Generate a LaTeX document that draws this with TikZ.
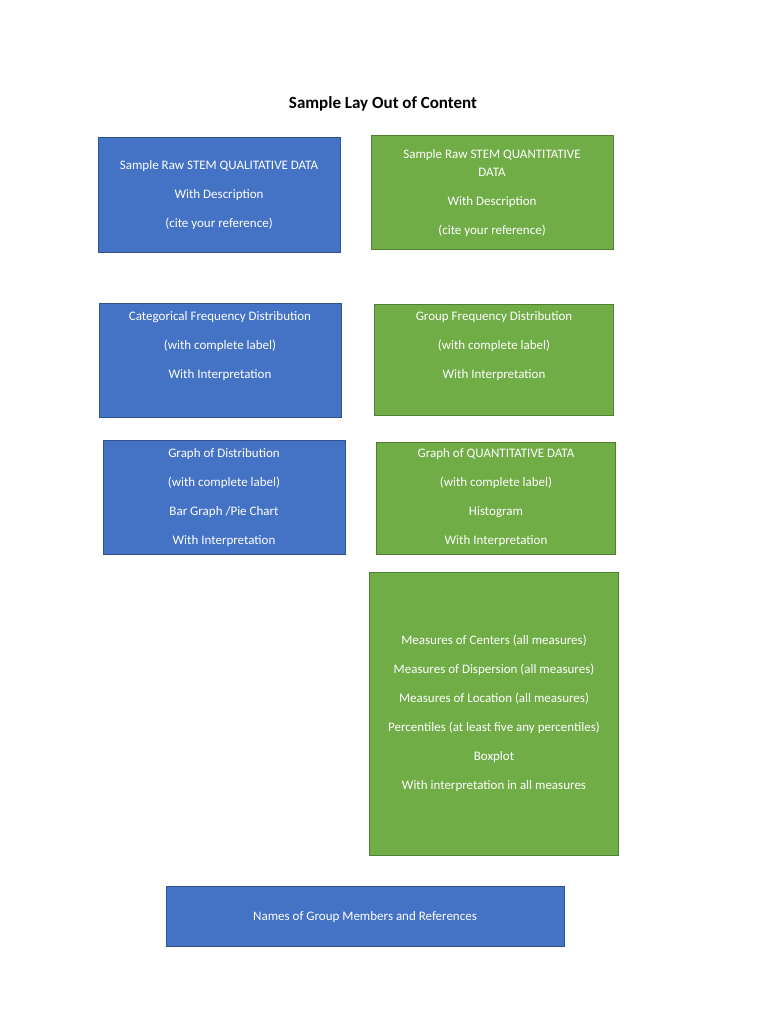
\documentclass[tikz,border=0pt]{standalone}
\usepackage{fontspec}
\setmainfont{Carlito}
\definecolor{bfill}{HTML}{4472C4}
\definecolor{bdraw}{HTML}{2F528F}
\definecolor{gfill}{HTML}{70AD47}
\definecolor{gdraw}{HTML}{507E32}
\begin{document}
\begin{tikzpicture}[x=1pt,y=-1pt,
  bbox/.style={draw=bdraw,fill=bfill,line width=1pt},
  gbox/.style={draw=gdraw,fill=gfill,line width=0.6pt},
  txt/.style={text=white,align=center,font=\fontsize{13}{29}\selectfont,inner sep=0pt}]
\useasboundingbox (0,0) rectangle (768,1024);
\node[font=\bfseries\fontsize{17}{20}\selectfont] (title) at (383,104) {Sample Lay Out of Content};
\draw[bbox] (98,138) rectangle (340,252); \coordinate (b1) at (219,195);
\node[txt] (tb1) at (b1) {Sample Raw STEM QUALITATIVE DATA\\With Description\\(cite your reference)};
\draw[gbox] (371,135) rectangle (613,249);
\node[txt] (tg1) at (492,193) {Sample Raw STEM QUANTITATIVE\\[-11pt]DATA\\With Description\\(cite your reference)};
\draw[bbox] (99,303) rectangle (341,417);
\node[txt] (tb2) at (220,346) {Categorical Frequency Distribution\\(with complete label)\\With Interpretation};
\draw[gbox] (374,304) rectangle (613,415);
\node[txt] (tg2) at (494,346) {Group Frequency Distribution\\(with complete label)\\With Interpretation};
\draw[bbox] (103,440) rectangle (345,554);
\node[txt] (tb3) at (224,498) {Graph of Distribution\\(with complete label)\\Bar Graph /Pie Chart\\With Interpretation};
\draw[gbox] (376,442) rectangle (615,554);
\node[txt] (tg3) at (496,498) {Graph of QUANTITATIVE DATA\\(with complete label)\\Histogram\\With Interpretation};
\draw[gbox] (369,572) rectangle (618,855);
\node[txt] (tg4) at (494,713) {Measures of Centers (all measures)\\Measures of Dispersion (all measures)\\Measures of Location (all measures)\\Percentiles (at least five any percentiles)\\Boxplot\\With interpretation in all measures};
\draw[bbox] (166,886) rectangle (564,946);
\node[txt] (tb4) at (365,917) {Names of Group Members and References};
\end{tikzpicture}
\end{document}
